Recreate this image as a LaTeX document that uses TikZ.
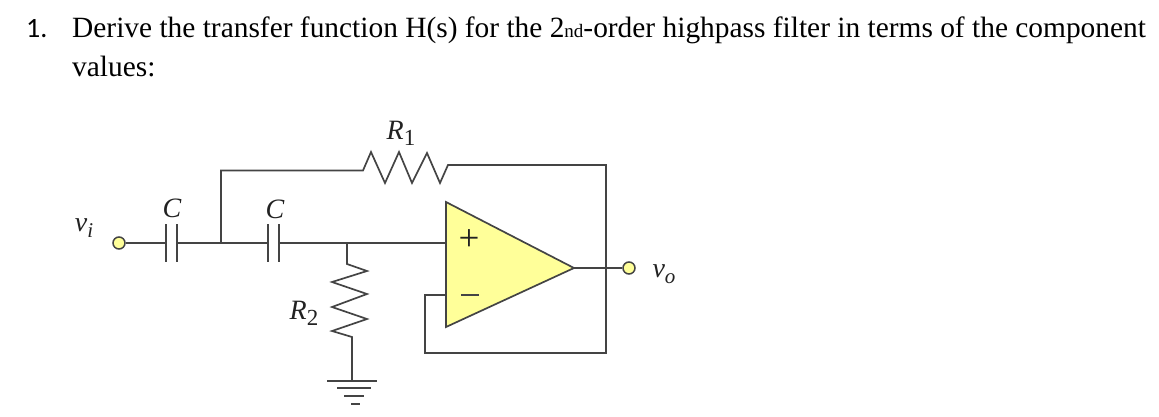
\documentclass[tikz,border=0pt]{standalone}
\usepackage{fontspec}
\setmainfont{Liberation Serif}
\newfontfamily\numfont{Carlito}
\definecolor{wirec}{HTML}{444444}
\definecolor{ampfill}{HTML}{FFFF99}
\definecolor{labelc}{HTML}{222222}
\newcommand{\sz}[1]{\fontsize{#1}{#1}\selectfont}
\newcommand{\subup}[1]{\raisebox{-6pt}{\sz{23}\upshape #1}}
\newcommand{\subit}[1]{\raisebox{-6pt}{\sz{21}\itshape #1}}
\tikzset{
  wire/.style={draw=wirec,line width=1.7pt,line join=miter},
  body/.style={inner sep=0pt,anchor=base west,text=black,font=\sz{29.4}},
  lab/.style={inner sep=0pt,anchor=base,text=labelc,font=\sz{28}\itshape},
  term/.style={circle,draw=wirec,fill=ampfill,line width=1.5pt,minimum size=12pt,inner sep=0pt},
  amp/.style={draw=wirec,fill=ampfill,line width=1.7pt,line join=miter}
}
\begin{document}
\begin{tikzpicture}[x=1pt,y=-1pt]
\useasboundingbox (0,0) rectangle (1159,416);
\node[inner sep=0pt,anchor=base west,font=\sz{28}\numfont] (num) at (26,37) {1.};
\node[body] (line1) at (72,37) {Derive the transfer function H(s) for the 2{\sz{19}nd}-order highpass filter in terms of the component};
\node[body] (line2) at (72,76) {values:};

% nodes
\node[term] (vin) at (119,243) {};
\node[term] (vout) at (629,268) {};
\coordinate (c1a) at (166,243);
\coordinate (c1b) at (177,243);
\coordinate (j1) at (221,243);
\coordinate (j1top) at (221,170.5);
\coordinate (c2a) at (268,243);
\coordinate (c2b) at (279,243);
\coordinate (j2) at (347,243);
\coordinate (ninp) at (446,243);
\coordinate (ninm) at (446,295);
\coordinate (tip) at (574,268);
\coordinate (r1a) at (363,170.5);
\coordinate (r1b) at (448,165);
\coordinate (fbtop) at (606,165);
\coordinate (fbbr) at (606,353);
\coordinate (fbbl) at (425,353);
\coordinate (fbl) at (425,295);
\coordinate (r2a) at (347,264);
\coordinate (r2b) at (352,337);
\coordinate (gnd) at (352,381);

% op-amp
\draw[amp] (446,202) -- (tip) -- (446,327) -- cycle;
\node[inner sep=0pt,text=labelc,font=\sz{37}] (plus) at (469,240) {+};
\node[inner sep=0pt,text=wirec] (minus) at (470,295) {\rule{18pt}{1.5pt}};

% input and capacitors
\draw[wire] (vin) -- (c1a);
\draw[wire] (c1b) -- (j1) -- (c2a);
\draw[wire] (c2b) -- (j2) -- (ninp);
\draw[wire] (166,224) -- (166,262);
\draw[wire] (177,224) -- (177,262);
\draw[wire] (268,224) -- (268,262);
\draw[wire] (279,224) -- (279,262);

% R1 branch
\draw[wire] (j1) -- (j1top) -- (r1a) -- (371,152) -- (385,183) -- (399,152) -- (412,183) -- (427,153) -- (440,183) -- (r1b) -- (fbtop) -- (fbbr) -- (fbbl) -- (fbl) -- (ninm);
\draw[wire] (tip) -- (vout);

% R2 branch
\draw[wire] (j2) -- (r2a) -- (367,271) -- (332,282) -- (367,294) -- (332,307) -- (367,319) -- (332,331) -- (r2b) -- (gnd);
\draw[wire] (327,381) -- (377,381);
\draw[wire] (337,388) -- (371,388);
\draw[wire] (344,396) -- (364,396);
\draw[wire] (351,404) -- (360,404);

% labels
\node[lab] (lR1) at (401,139) {R\subup{1}};
\node[lab] (lC1) at (172,217) {C};
\node[lab] (lC2) at (275,218) {C};
\node[lab] (lvi) at (84,231) {v\subit{i}};
\node[lab] (lR2) at (304,319) {R\subup{2}};
\node[lab] (lvo) at (664,277) {v\subit{o}};
\end{tikzpicture}
\end{document}
